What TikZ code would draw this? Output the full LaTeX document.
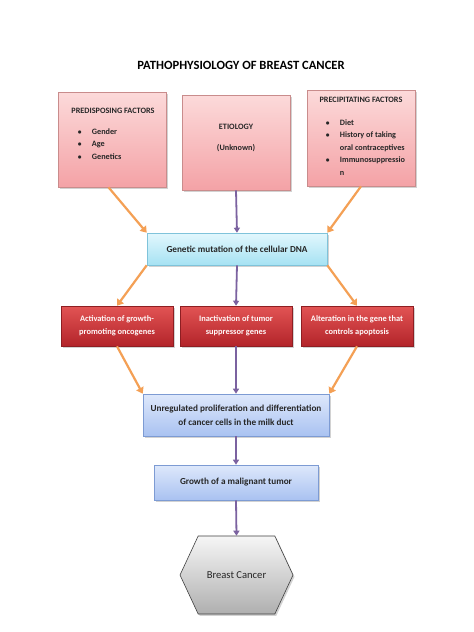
\documentclass[tikz,border=0pt]{standalone}
\usepackage{fontspec}
\setmainfont{Carlito}
\usetikzlibrary{shapes.symbols,shadows,arrows.meta}
\definecolor{pinkT}{HTML}{FCDADA}
\definecolor{pinkB}{HTML}{F4A2A6}
\definecolor{pinkD}{HTML}{C98C8C}
\definecolor{cyanT}{HTML}{E2F7FD}
\definecolor{cyanB}{HTML}{A6E2F3}
\definecolor{cyanD}{HTML}{7FC3DA}
\definecolor{redT}{HTML}{E25454}
\definecolor{redB}{HTML}{B3242A}
\definecolor{redD}{HTML}{8E1E22}
\definecolor{bluT}{HTML}{DEE8FB}
\definecolor{bluB}{HTML}{A9C2F1}
\definecolor{bluD}{HTML}{7D9BD3}
\definecolor{greyT}{HTML}{F6F6F6}
\definecolor{greyB}{HTML}{AFAFAF}
\definecolor{orangeA}{HTML}{F4A055}
\definecolor{purpleA}{HTML}{7B62A0}
\definecolor{txt}{HTML}{262626}
\tikzset{
  x=1pt, y=-1pt,
  basebox/.style={rectangle, inner sep=0pt, draw, line width=0.6pt,
    drop shadow={shadow xshift=1.5pt, shadow yshift=-1.8pt, opacity=0.35}},
  pinkbox/.style={basebox, draw=pinkD, top color=pinkT, bottom color=pinkB},
  cyanbox/.style={basebox, draw=cyanD, top color=cyanT, bottom color=cyanB},
  redbox/.style={basebox, draw=redD, top color=redT, bottom color=redB},
  blubox/.style={basebox, draw=bluD, top color=bluT, bottom color=bluB},
  hexbox/.style={signal, signal to=east and west, signal pointer angle=130,
    draw=black!75, line width=0.6pt, top color=greyT, bottom color=greyB, inner sep=0pt,
    drop shadow={shadow xshift=1.5pt, shadow yshift=-1.8pt, opacity=0.35}},
  btxt/.style={font=\fontsize{8.2}{12.6}\selectfont\bfseries, text=txt, inner sep=0pt},
  mtxt/.style={font=\fontsize{9.2}{14}\selectfont\bfseries, text=txt, align=center, inner sep=0pt},
  rtxt/.style={font=\fontsize{8.4}{13}\selectfont\bfseries, text=white!90!pink, align=center, inner sep=0pt},
  oarrow/.style={draw=orangeA, line width=2.2pt, -{Triangle[width=8pt,length=6pt]}},
  parrow/.style={draw=purpleA, line width=1.8pt, -{Triangle[width=6pt,length=5pt]}},
}
\begin{document}
\begin{tikzpicture}
\useasboundingbox (0,0) rectangle (474,632);
\fill[white] (0,0) rectangle (474,632);
\node[font=\fontsize{12.6}{14}\selectfont\bfseries, text=black, inner sep=0pt] (title) at (241,65) {PATHOPHYSIOLOGY OF BREAST CANCER};

% top boxes
\node[pinkbox, minimum width=108pt, minimum height=95pt] (pre) at (112.5,139.5) {};
\node[pinkbox, minimum width=108pt, minimum height=95pt] (eti) at (236,142.5) {};
\node[pinkbox, minimum width=108pt, minimum height=96pt] (pcp) at (361,138) {};

\node[btxt] (preT) at (113,111) {PREDISPOSING FACTORS};
\node[btxt, anchor=base west] (preL) at (77.5,134) {\begin{tabular}[t]{@{}l@{\hspace{10pt}}l@{}}$\bullet$ & Gender\\ $\bullet$ & Age\\ $\bullet$ & Genetics\end{tabular}};

\node[btxt] (etiT) at (236,127) {ETIOLOGY};
\node[btxt] (etiU) at (236,148) {(Unknown)};

\node[btxt] (pcpT) at (361,100) {PRECIPITATING FACTORS};
\node[btxt, anchor=base west] (pcpL) at (325.5,125) {\begin{tabular}[t]{@{}l@{\hspace{10pt}}l@{}}$\bullet$ & Diet\\ $\bullet$ & History of taking\\ & oral contraceptives\\ $\bullet$ & Immunosuppressio\\ & n\end{tabular}};

% genetic mutation
\node[cyanbox, minimum width=180pt, minimum height=32pt, mtxt] (gen) at (237,249) {Genetic mutation of the cellular DNA};

% red boxes
\node[redbox, minimum width=112pt, minimum height=40pt, rtxt] (ra) at (117,326) {Activation of growth-\\promoting oncogenes};
\node[redbox, minimum width=112pt, minimum height=40pt, rtxt] (rb) at (236,326) {Inactivation of tumor\\suppressor genes};
\node[redbox, minimum width=112pt, minimum height=40pt, rtxt] (rc) at (357,326) {Alteration in the gene that\\controls apoptosis};

% unregulated
\node[blubox, minimum width=186pt, minimum height=42pt, mtxt] (unr) at (236,415) {Unregulated proliferation and differentiation\\of cancer cells in the milk duct};

% growth
\node[blubox, minimum width=164pt, minimum height=35pt, mtxt] (gro) at (236,482.5) {Growth of a malignant tumor};

% breast cancer
\node[hexbox, minimum width=113pt, minimum height=78pt, font=\fontsize{10.6}{12}\selectfont, text=txt] (bc) at (236.5,575) {Breast Cancer};

% arrows
\draw[oarrow] (pre.south) ++(-4,0) coordinate (preS) -- (gen.north west);
\draw[parrow] (eti.south) -- (gen.north);
\draw[oarrow] (pcp.south) -- (gen.north east);

\draw[oarrow] (gen.south west) -- (ra.north);
\draw[parrow] (gen.south) -- (rb.north);
\draw[oarrow] (gen.south east) -- (rc.north);

\draw[oarrow] (ra.south) -- (unr.north west);
\draw[parrow] (rb.south) -- (unr.north);
\draw[oarrow] (rc.south) -- (unr.north east);

\draw[parrow] (unr.south) -- (gro.north);
\draw[parrow] (gro.south) -- (bc.north);
\end{tikzpicture}
\end{document}
